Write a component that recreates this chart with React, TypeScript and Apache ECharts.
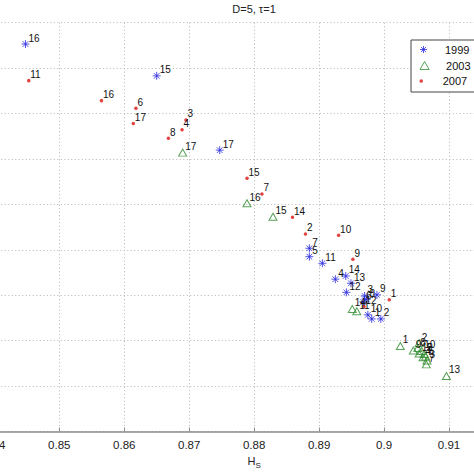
import React, { useEffect, useRef } from "react";
import * as echarts from "echarts";

// ---- data (H_S, complexity, label) ----
const labels1999 = ["1","2","3","4","5","6","7","8","9","10","11","12","13","14","15","16","17"];
const hs1999 = [0.8981,0.8995,0.8970,0.8925,0.8885,0.8968,0.8885,0.8973,0.8989,0.8975,0.8905,0.8942,0.8949,0.8941,0.8650,0.8448,0.8747];
const c1999 = [0.1496,0.1496,0.1597,0.1671,0.1770,0.1571,0.1807,0.1582,0.1602,0.1514,0.1741,0.1613,0.1653,0.1685,0.2566,0.2706,0.2239];

const labelsB = ["1","2","3","4","5","6","7","8","9","10","11","12","13","14","15","16","17"];
const hsB = [0.9025,0.9054,0.9066,0.9060,0.9062,0.9064,0.9065,0.9052,0.9045,0.9058,0.8958,0.9054,0.9096,0.8951,0.8829,0.8789,0.8690];
const cB = [0.1377,0.1390,0.1313,0.1327,0.1342,0.1331,0.1296,0.1368,0.1357,0.1355,0.1530,0.1344,0.1245,0.1540,0.1946,0.2005,0.2228];

const labelsC = ["1","2","3","4","6","7","8","9","10","11","12","14","15","16","17"];
const hsC = [0.9008,0.8879,0.8695,0.8689,0.8618,0.8812,0.8668,0.8952,0.8930,0.8453,0.8969,0.8859,0.8789,0.8565,0.8614];
const cC = [0.1580,0.1870,0.2372,0.2329,0.2423,0.2046,0.2291,0.1759,0.1864,0.2545,0.1551,0.1944,0.2115,0.2457,0.2356];

const seriesNames = ["1999", "2003", "2007"];
const titleText = "D=5, \u03c4=1";
const xTicks = { min: 0.84, max: 0.92, interval: 0.01 };
const yTicks = { min: 0.1, max: 0.28, interval: 0.02 };

const FONT = "Liberation Sans, Arial, Helvetica, sans-serif";
const OFF = 50; // container shifted left by this many px

const BLUE = "#2a2adf";
const GREEN = "#2e8b2e";
const RED = "#dc1414";
const INK = "#111111";

const build = (xs: number[], ys: number[], ls: string[]) =>
  xs.map((x, i) => ({ value: [x, ys[i]], name: ls[i] }));

const asterisk =
  "path://M4,0L4,8M0,4L8,4M1.17,1.17L6.83,6.83M1.17,6.83L6.83,1.17";
const triangle = "path://M4,0L8,7L0,7Z";

export default function App() {
  const ref = useRef<HTMLDivElement>(null);
  useEffect(() => {
    if (!ref.current) return;
    const chart = echarts.init(ref.current, undefined, { renderer: "svg" });
    const labelSeries = (name: string, data: any[], ox: number) => ({
      name: name + " labels",
      type: "scatter",
      symbol: "circle",
      symbolSize: 0.01,
      silent: true,
      z: 4,
      itemStyle: { color: INK, opacity: 1 },
      label: {
        show: true,
        formatter: (p: any) => p.name,
        position: "right",
        distance: 0,
        offset: [ox, -6],
        color: INK,
        fontSize: 10,
        fontFamily: FONT,
        textBorderWidth: 0,
        textBorderColor: "rgba(0,0,0,0)",
      },
      emphasis: { disabled: true },
      data,
    });
    const legendText = { fontSize: 11, color: INK, fontFamily: FONT };
    chart.setOption({
      animation: false,
      title: {
        text: titleText,
        left: 304,
        textAlign: "center",
        top: 3,
        padding: 0,
        textStyle: { fontSize: 11, fontWeight: "normal", color: "#222", fontFamily: FONT },
      },
      grid: { left: 44.3, right: 56, top: 22.7, bottom: 42.3 },
      xAxis: {
        type: "value",
        min: xTicks.min,
        max: xTicks.max,
        interval: xTicks.interval,
        name: "{h|H}{s|S}",
        nameLocation: "middle",
        nameGap: 16,
        nameTextStyle: {
          rich: {
            h: { fontSize: 11, color: "#222", fontFamily: FONT },
            s: { fontSize: 8, color: "#222", fontFamily: FONT, padding: [8, 0, 0, 0] },
          },
        },
        axisLine: { show: true, lineStyle: { color: "#8c8c8c", width: 1.5 } },
        axisTick: { show: true, inside: true, length: 4, lineStyle: { color: "#8c8c8c" } },
        axisLabel: {
          margin: 7,
          color: "#222",
          fontSize: 11.5,
          fontFamily: FONT,
          showMaxLabel: false,
          formatter: (v: number) => String(parseFloat(v.toFixed(2))),
        },
        splitLine: { show: true, lineStyle: { color: "#b4b4b4", type: [1, 2.5], width: 1 } },
      },
      yAxis: {
        type: "value",
        min: yTicks.min,
        max: yTicks.max,
        interval: yTicks.interval,
        axisLine: { show: true, lineStyle: { color: "#8c8c8c" } },
        axisTick: { show: true, inside: true, length: 4 },
        axisLabel: { show: false },
        splitLine: { show: true, lineStyle: { color: "#b4b4b4", type: [1, 2.5], width: 1 } },
      },
      legend: [
        {
          data: [{ name: seriesNames[0], icon: asterisk }],
          left: 469.5,
          top: 50.5 - 6.5,
          padding: 0,
          itemWidth: 33,
          itemHeight: 7,
          itemStyle: { color: "rgba(0,0,0,0)", borderColor: BLUE, borderWidth: 1 },
          textStyle: legendText,
          z: 6,
        },
        {
          data: [{ name: seriesNames[1], icon: triangle }],
          left: 469.5,
          top: 66.5 - 6.5,
          padding: 0,
          itemWidth: 33,
          itemHeight: 8,
          itemStyle: { color: "rgba(0,0,0,0)", borderColor: GREEN, borderWidth: 1 },
          textStyle: legendText,
          z: 6,
        },
        {
          data: [{ name: seriesNames[2], icon: "circle" }],
          left: 469.5,
          top: 82 - 6.5,
          padding: 0,
          itemWidth: 33,
          itemHeight: 3.5,
          itemStyle: { color: RED, borderWidth: 0 },
          textStyle: legendText,
          z: 6,
        },
      ],
      graphic: [
        {
          type: "rect",
          z: 5,
          shape: { x: 461, y: 40, width: 93, height: 52 },
          style: { fill: "#fff", stroke: "#444", lineWidth: 1 },
        },
      ],
      series: [
        {
          name: seriesNames[0],
          type: "scatter",
          symbol: asterisk,
          symbolSize: 8,
          itemStyle: { color: "rgba(0,0,0,0)", borderColor: BLUE, borderWidth: 1 },
          data: build(hs1999, c1999, labels1999),
        },
        {
          name: seriesNames[1],
          type: "scatter",
          symbol: triangle,
          symbolSize: [8, 7],
          itemStyle: { color: "rgba(0,0,0,0)", borderColor: GREEN, borderWidth: 1 },
          data: build(hsB, cB, labelsB),
        },
        {
          name: seriesNames[2],
          type: "scatter",
          symbol: "circle",
          symbolSize: 3.5,
          itemStyle: { color: RED },
          data: build(hsC, cC, labelsC),
        },
        labelSeries(seriesNames[0], build(hs1999, c1999, labels1999), 3),
        labelSeries(seriesNames[1], build(hsB, cB, labelsB), 2.5),
        labelSeries(seriesNames[2], build(hsC, cC, labelsC), 1.5),
      ],
    });
    return () => chart.dispose();
  }, []);
  return (
    <div
      ref={ref}
      style={{ position: "fixed", left: -OFF, top: 0, width: 620, height: 474, background: "#fff" }}
    />
  );
}
